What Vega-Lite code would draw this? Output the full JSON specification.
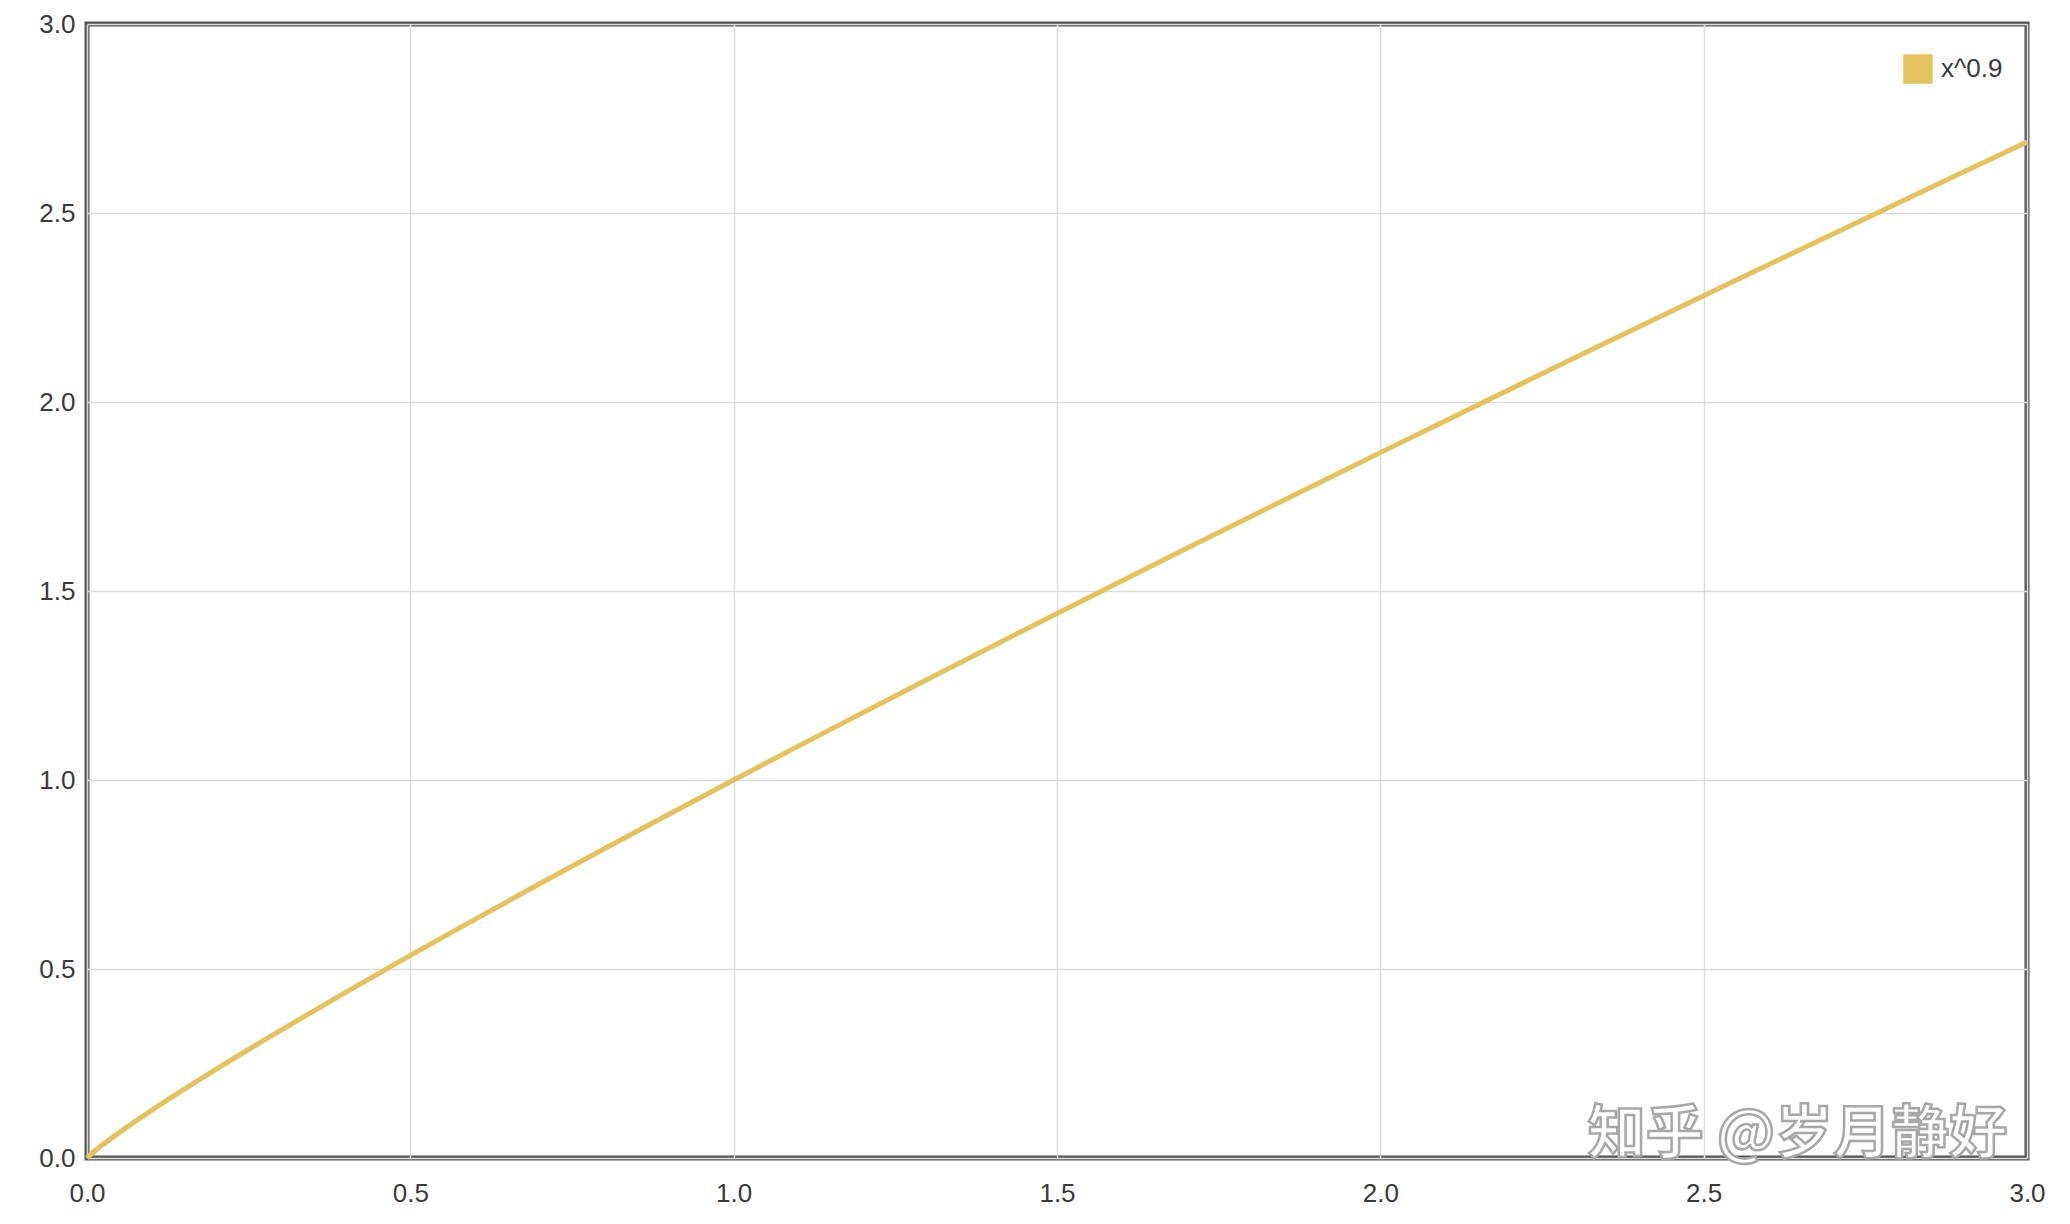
{
  "$schema": "https://vega.github.io/schema/vega-lite/v6.json",
  "width": 1940,
  "height": 1134,
  "autosize": "none",
  "padding": {"left": 87, "top": 24, "right": 43, "bottom": 66},
  "background": "#ffffff",
  "config": {
    "font": "Liberation Sans",
    "view": {"stroke": "#555555", "strokeWidth": 5},
    "axis": {
      "domain": false,
      "ticks": false,
      "grid": true,
      "gridColor": "#dddddd",
      "gridWidth": 1.5,
      "labelFont": "Liberation Sans",
      "labelFontSize": 26,
      "labelColor": "#3a3a3a",
      "labelFlush": false,
      "labelOverlap": false,
      "title": null,
      "format": ".1f"
    }
  },
  "layer": [
    {
      "data": {
        "values": [
          {"x": 0, "y": 0, "series": "x^0.9"},
          {"x": 0.01, "y": 0.01585, "series": "x^0.9"},
          {"x": 0.02, "y": 0.02958, "series": "x^0.9"},
          {"x": 0.05, "y": 0.06747, "series": "x^0.9"},
          {"x": 0.1, "y": 0.12589, "series": "x^0.9"},
          {"x": 0.2, "y": 0.23492, "series": "x^0.9"},
          {"x": 0.3, "y": 0.33841, "series": "x^0.9"},
          {"x": 0.4, "y": 0.43838, "series": "x^0.9"},
          {"x": 0.5, "y": 0.53589, "series": "x^0.9"},
          {"x": 0.6, "y": 0.63145, "series": "x^0.9"},
          {"x": 0.7, "y": 0.72542, "series": "x^0.9"},
          {"x": 0.8, "y": 0.81805, "series": "x^0.9"},
          {"x": 0.9, "y": 0.90953, "series": "x^0.9"},
          {"x": 1.0, "y": 1.0, "series": "x^0.9"},
          {"x": 1.1, "y": 1.08957, "series": "x^0.9"},
          {"x": 1.2, "y": 1.17832, "series": "x^0.9"},
          {"x": 1.3, "y": 1.26634, "series": "x^0.9"},
          {"x": 1.4, "y": 1.35368, "series": "x^0.9"},
          {"x": 1.5, "y": 1.44037, "series": "x^0.9"},
          {"x": 1.6, "y": 1.5265, "series": "x^0.9"},
          {"x": 1.7, "y": 1.61215, "series": "x^0.9"},
          {"x": 1.8, "y": 1.69725, "series": "x^0.9"},
          {"x": 1.9, "y": 1.78185, "series": "x^0.9"},
          {"x": 2.0, "y": 1.86607, "series": "x^0.9"},
          {"x": 2.1, "y": 1.94982, "series": "x^0.9"},
          {"x": 2.2, "y": 2.03318, "series": "x^0.9"},
          {"x": 2.3, "y": 2.11616, "series": "x^0.9"},
          {"x": 2.4, "y": 2.1988, "series": "x^0.9"},
          {"x": 2.5, "y": 2.28107, "series": "x^0.9"},
          {"x": 2.6, "y": 2.36304, "series": "x^0.9"},
          {"x": 2.7, "y": 2.44468, "series": "x^0.9"},
          {"x": 2.8, "y": 2.52602, "series": "x^0.9"},
          {"x": 2.9, "y": 2.6071, "series": "x^0.9"},
          {"x": 3.0, "y": 2.68787, "series": "x^0.9"}
        ]
      },
      "mark": {"type": "line", "strokeWidth": 5, "interpolate": "monotone"},
      "encoding": {
        "x": {
          "field": "x",
          "type": "quantitative",
          "scale": {"domain": [0, 3], "nice": false, "zero": false},
          "axis": {"values": [0, 0.5, 1, 1.5, 2, 2.5, 3], "labelPadding": 22}
        },
        "y": {
          "field": "y",
          "type": "quantitative",
          "scale": {"domain": [0, 3], "nice": false},
          "axis": {"values": [0, 0.5, 1, 1.5, 2, 2.5, 3], "labelPadding": 12}
        },
        "color": {
          "field": "series",
          "type": "nominal",
          "scale": {"range": ["#e4c25e"]},
          "legend": {
            "title": null,
            "orient": "none",
            "legendX": 1816,
            "legendY": 30,
            "symbolType": "square",
            "symbolSize": 720,
            "symbolFillColor": "#e4c25e",
            "symbolStrokeColor": "#d0d0d0",
            "symbolStrokeWidth": 2.5,
            "labelFont": "Liberation Sans",
            "labelFontSize": 26,
            "labelColor": "#3a3a3a",
            "labelOffset": 8
          }
        }
      }
    },
    {
      "data": {"values": [{"x": 2.645, "y": 0.058, "t": "知乎 @岁月静好"}]},
      "mark": {
        "type": "text",
        "font": "Noto Sans CJK SC",
        "fontSize": 58,
        "fontWeight": "bold",
        "fill": "#ffffff",
        "stroke": "#a8a8a8",
        "strokeWidth": 2.5,
        "align": "center",
        "baseline": "middle"
      },
      "encoding": {
        "x": {"field": "x", "type": "quantitative"},
        "y": {"field": "y", "type": "quantitative"},
        "text": {"field": "t"}
      }
    }
  ]
}
